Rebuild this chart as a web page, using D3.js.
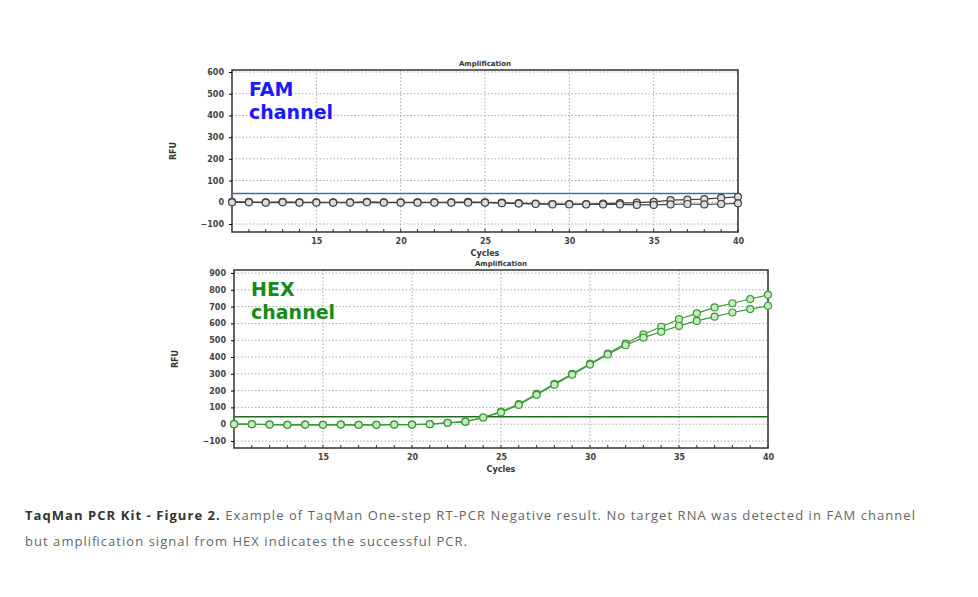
<!DOCTYPE html><html><head><meta charset="utf-8"><script src="https://d3js.org/d3.v7.min.js"></script>
<style>body{margin:0;background:#fff;font-family:"Open Sans",sans-serif}</style></head><body>
<svg id="c" width="978" height="597"></svg>
<script>
const cycles=d3.range(10,41);
const famA=[2,2,0,2,0,0,0,0,2,0,0,0,0,0,2,0,-2,-4,-6,-8,-8,-8,-6,-4,-2,2,10,12,15,20,25];
const famB=[0,0,-2,0,-2,-2,-2,-2,0,-2,-2,-2,-2,-2,-2,-2,-4,-6,-8,-10,-10,-10,-10,-10,-12,-12,-10,-8,-10,-8,-5];
const hexA=[0,0,-2,-4,-2,-4,-2,-4,-4,-2,-2,0,8,15,40,75,120,180,240,300,360,420,480,535,580,625,660,695,720,745,770];
const hexB=[0,0,-2,-4,-2,-4,-2,-4,-4,-2,-2,0,8,15,40,70,115,175,235,295,355,415,470,515,550,585,615,640,665,685,705];
const famTicks=[-100,0,100,200,300,400,500,600];
const hexTicks=[-100,0,100,200,300,400,500,600,700,800,900];
const xTicks=[15,20,25,30,35,40];
const svg=d3.select("#c");
function panel(o){
  const g=svg.append("g");
  const x=d3.scaleLinear().domain([10,40]).range([o.x0,o.x1]);
  const y=d3.scaleLinear().domain([o.ymin,o.ymax]).range([o.y0,o.y1]);
  g.selectAll(".gy").data(o.ticks).join("line").attr("x1",o.x0).attr("x2",o.x1).attr("y1",d=>y(d)).attr("y2",d=>y(d)).attr("stroke","#aaa").attr("stroke-dasharray","1.5,2");
  g.selectAll(".gx").data(xTicks).join("line").attr("x1",d=>x(d)).attr("x2",d=>x(d)).attr("y1",o.top).attr("y2",o.bot).attr("stroke","#aaa").attr("stroke-dasharray","1.5,2");
  g.append("rect").attr("x",o.x0).attr("y",o.top).attr("width",o.x1-o.x0).attr("height",o.bot-o.top).attr("fill","none").attr("stroke","#333").attr("stroke-width",1.5);
  const ax=d3.axisBottom(x).tickValues(xTicks).tickSize(0).tickPadding(6);
  g.append("g").attr("transform",`translate(0,${o.bot})`).call(ax).call(s=>s.select(".domain").remove()).selectAll("text").attr("font-size",8).attr("font-weight","bold").attr("fill","#444").attr("font-family","DejaVu Sans");
  g.selectAll(".mx").data(d3.range(11,41)).join("line").attr("x1",d=>x(d)).attr("x2",d=>x(d)).attr("y1",o.bot).attr("y2",o.bot-3).attr("stroke","#333");
  const ay=d3.axisLeft(y).tickValues(o.ticks).tickSize(3).tickPadding(5);
  g.append("g").attr("transform",`translate(${o.x0},0)`).call(ay).call(s=>s.select(".domain").remove()).selectAll("text").attr("font-size",8).attr("font-weight","bold").attr("fill","#444").attr("font-family","DejaVu Sans");
  g.append("text").attr("x",(o.x0+o.x1)/2).attr("y",o.top-4).attr("text-anchor","middle").attr("font-size",7).attr("font-weight","bold").attr("fill","#333").attr("font-family","DejaVu Sans").text("Amplification");
  g.append("text").attr("x",(o.x0+o.x1)/2).attr("y",o.bot+24).attr("text-anchor","middle").attr("font-size",8).attr("font-weight","bold").attr("fill","#333").attr("font-family","DejaVu Sans").text("Cycles");
  g.append("text").attr("transform",`translate(${o.x0-56},${(o.top+o.bot)/2}) rotate(-90)`).attr("text-anchor","middle").attr("font-size",8).attr("font-weight","bold").attr("fill","#333").attr("font-family","DejaVu Sans").text("RFU");
  g.append("line").attr("x1",o.x0).attr("x2",o.x1).attr("y1",y(o.thr)).attr("y2",y(o.thr)).attr("stroke",o.thrC).attr("stroke-width",1.5);
  const line=d3.line().x((d,i)=>x(cycles[i])).y(d=>y(d));
  o.series.forEach(s=>{
    g.append("path").datum(s).attr("d",line).attr("fill","none").attr("stroke",o.lc).attr("stroke-width",1.2);
    g.selectAll(null).data(s).join("circle").attr("cx",(d,i)=>x(cycles[i])).attr("cy",d=>y(d)).attr("r",3.5).attr("fill",o.mf).attr("stroke",o.lc).attr("stroke-width",1.2);
  });
  g.append("text").attr("x",o.x0+17).attr("y",o.top+26).attr("font-size",19).attr("font-weight","bold").attr("fill",o.tc).attr("font-family","DejaVu Sans").text(o.l1);
  g.append("text").attr("x",o.x0+17).attr("y",o.top+49).attr("font-size",19).attr("font-weight","bold").attr("fill",o.tc).attr("font-family","DejaVu Sans").text("channel");
}
panel({x0:232,x1:738,top:70,bot:232,ymin:-100,ymax:600,y0:224,y1:72,ticks:famTicks,thr:40,thrC:"#3b6fb0",series:[famA,famB],lc:"#444",mf:"#ddd",tc:"#1a1aff",l1:"FAM"});
panel({x0:234,x1:768,top:270,bot:448,ymin:-100,ymax:900,y0:441,y1:273,ticks:hexTicks,thr:45,thrC:"#1e6b1e",series:[hexA,hexB],lc:"#3a9a3a",mf:"#c4ecbc",tc:"#178a17",l1:"HEX"});
const cap=svg.append("text").attr("x",25).attr("y",520).attr("font-size",13).attr("fill","#666").attr("textLength",890).attr("lengthAdjust","spacing");
cap.append("tspan").attr("font-weight","bold").attr("fill","#333").text("TaqMan PCR Kit - Figure 2.");
cap.append("tspan").text(" Example of TaqMan One-step RT-PCR Negative result. No target RNA was detected in FAM channel");
svg.append("text").attr("x",25).attr("y",546).attr("font-size",13).attr("fill","#666").attr("textLength",442).attr("lengthAdjust","spacing").text("but amplification signal from HEX indicates the successful PCR.");
</script></body></html>
